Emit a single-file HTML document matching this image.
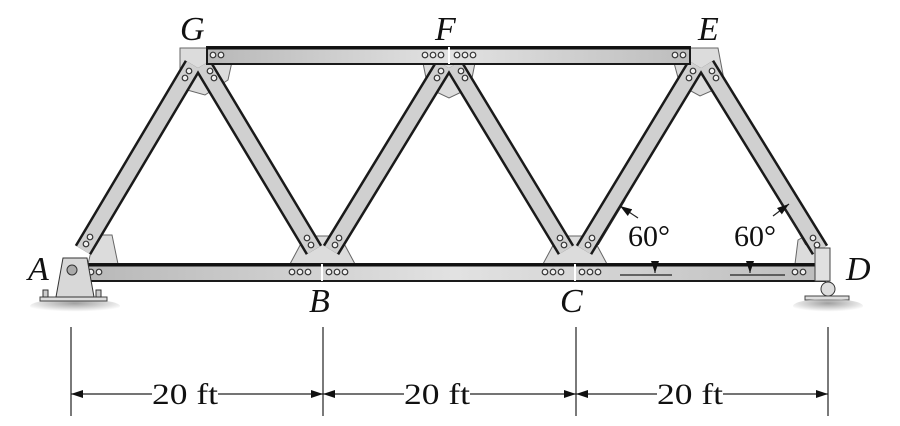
<!DOCTYPE html>
<html><head><meta charset="utf-8"><style>
html,body{margin:0;padding:0;background:#fff;}
svg{display:block;}
.lbl{font-family:"Liberation Serif",serif;font-style:italic;font-size:34px;fill:#111;}
.dim{font-family:"Liberation Serif",serif;font-size:30px;fill:#111;}
</style></head><body>
<svg width="900" height="426" viewBox="0 0 900 426" xmlns="http://www.w3.org/2000/svg">
<defs>
<linearGradient id="gb" x1="0" y1="0" x2="1" y2="0"><stop offset="0" stop-color="#b8b8b8"/><stop offset="0.5" stop-color="#e2e2e2"/><stop offset="1" stop-color="#bdbdbd"/></linearGradient>
<radialGradient id="gr" cx="0.5" cy="0.3" r="0.6"><stop offset="0" stop-color="#777"/><stop offset="1" stop-color="#fff"/></radialGradient>
<marker id="ar" markerWidth="12" markerHeight="8" refX="12" refY="4" orient="auto" markerUnits="userSpaceOnUse"><path d="M0,0 L12,4 L0,8 z" fill="#111"/></marker>
</defs>
<!-- gussets -->
<g fill="#dcdcdc" stroke="#666" stroke-width="1">
<polygon points="180,48 235,48 228,80 205,95 180,88"/>
<polygon points="420,48 478,48 470,88 449,98 428,88"/>
<polygon points="670,48 718,48 725,85 700,96 680,85"/>
<polygon points="95,235 112,235 118,264 88,264"/>
<polygon points="290,264 305,236 340,236 355,264"/>
<polygon points="543,264 558,236 592,236 607,264"/>
<polygon points="798,240 812,232 830,258 830,264 795,264"/>
</g>
<!-- diagonals -->
<g stroke-linecap="butt" fill="none">
<g stroke="#1a1a1a" stroke-width="19">
<line x1="83" y1="250" x2="193" y2="65"/><line x1="203" y1="65" x2="314" y2="250"/>
<line x1="331" y1="250" x2="444" y2="65"/><line x1="454" y1="65" x2="566" y2="250"/>
<line x1="584" y1="250" x2="696" y2="65"/><line x1="706" y1="65" x2="820" y2="250"/>
</g>
<g stroke="#d0d0d0" stroke-width="14">
<line x1="83" y1="250" x2="193" y2="65"/><line x1="203" y1="65" x2="314" y2="250"/>
<line x1="331" y1="250" x2="444" y2="65"/><line x1="454" y1="65" x2="566" y2="250"/>
<line x1="584" y1="250" x2="696" y2="65"/><line x1="706" y1="65" x2="820" y2="250"/>
</g>
</g>
<!-- top chord -->
<rect x="207" y="47" width="483" height="17" fill="url(#gb)" stroke="#1a1a1a" stroke-width="2"/>
<line x1="207" y1="48" x2="690" y2="48" stroke="#111" stroke-width="3"/>
<line x1="449" y1="47" x2="449" y2="64" stroke="#fff" stroke-width="2"/>
<!-- bottom chord -->
<rect x="85" y="264" width="740" height="17" fill="url(#gb)" stroke="#1a1a1a" stroke-width="2"/>
<line x1="85" y1="265" x2="825" y2="265" stroke="#111" stroke-width="3"/>
<line x1="322" y1="264" x2="322" y2="281" stroke="#fff" stroke-width="2"/>
<line x1="575" y1="264" x2="575" y2="281" stroke="#fff" stroke-width="2"/>
<!-- D end plate -->
<rect x="815" y="248" width="15" height="33" fill="#e0e0e0" stroke="#444"/>
<!-- bolts -->
<g fill="#eee" stroke="#333" stroke-width="1.2">
<circle cx="91" cy="272" r="2.8"/><circle cx="99" cy="272" r="2.8"/>
<circle cx="292" cy="272" r="2.8"/><circle cx="300" cy="272" r="2.8"/><circle cx="308" cy="272" r="2.8"/>
<circle cx="329" cy="272" r="2.8"/><circle cx="337" cy="272" r="2.8"/><circle cx="345" cy="272" r="2.8"/>
<circle cx="545" cy="272" r="2.8"/><circle cx="553" cy="272" r="2.8"/><circle cx="561" cy="272" r="2.8"/>
<circle cx="582" cy="272" r="2.8"/><circle cx="590" cy="272" r="2.8"/><circle cx="598" cy="272" r="2.8"/>
<circle cx="795" cy="272" r="2.8"/><circle cx="803" cy="272" r="2.8"/>
<circle cx="213" cy="55" r="2.8"/><circle cx="221" cy="55" r="2.8"/>
<circle cx="425" cy="55" r="2.8"/><circle cx="433" cy="55" r="2.8"/><circle cx="441" cy="55" r="2.8"/>
<circle cx="457" cy="55" r="2.8"/><circle cx="465" cy="55" r="2.8"/><circle cx="473" cy="55" r="2.8"/>
<circle cx="675" cy="55" r="2.8"/><circle cx="683" cy="55" r="2.8"/>
<circle cx="86" cy="244" r="2.8"/><circle cx="90" cy="237" r="2.8"/>
<circle cx="185" cy="78" r="2.8"/><circle cx="189" cy="71" r="2.8"/>
<circle cx="210" cy="71" r="2.8"/><circle cx="214" cy="78" r="2.8"/>
<circle cx="307" cy="238" r="2.8"/><circle cx="311" cy="245" r="2.8"/>
<circle cx="335" cy="245" r="2.8"/><circle cx="339" cy="238" r="2.8"/>
<circle cx="437" cy="78" r="2.8"/><circle cx="441" cy="71" r="2.8"/>
<circle cx="461" cy="71" r="2.8"/><circle cx="465" cy="78" r="2.8"/>
<circle cx="560" cy="238" r="2.8"/><circle cx="564" cy="245" r="2.8"/>
<circle cx="588" cy="245" r="2.8"/><circle cx="592" cy="238" r="2.8"/>
<circle cx="689" cy="78" r="2.8"/><circle cx="693" cy="71" r="2.8"/>
<circle cx="712" cy="71" r="2.8"/><circle cx="716" cy="78" r="2.8"/>
<circle cx="813" cy="238" r="2.8"/><circle cx="817" cy="245" r="2.8"/>
</g>
<!-- support A -->
<ellipse cx="75" cy="306" rx="45" ry="7" fill="url(#gr)" opacity="0.7"/>
<rect x="40" y="297" width="67" height="4" fill="#ddd" stroke="#444"/>
<polygon points="56,297 63,258 87,258 94,297" fill="#d8d8d8" stroke="#333"/>
<circle cx="72" cy="270" r="5" fill="#aaa" stroke="#333"/>
<rect x="43" y="290" width="5" height="7" fill="#ccc" stroke="#333"/>
<rect x="96" y="290" width="5" height="7" fill="#ccc" stroke="#333"/>
<!-- support D -->
<circle cx="828" cy="289" r="7" fill="#ddd" stroke="#333"/>
<rect x="805" y="296" width="44" height="4" fill="#ddd" stroke="#444"/>
<ellipse cx="828" cy="306" rx="35" ry="7" fill="url(#gr)" opacity="0.7"/>
<!-- angle marks -->
<g stroke="#222" stroke-width="1.2" fill="none">
<line x1="620" y1="275" x2="672" y2="275"/><line x1="730" y1="275" x2="785" y2="275"/>
<line x1="598" y1="245" x2="625" y2="200"/><line x1="806" y1="245" x2="780" y2="200"/>
<line x1="655" y1="262" x2="655" y2="273" marker-end="url(#ar)"/>
<line x1="750" y1="262" x2="750" y2="273" marker-end="url(#ar)"/>
<line x1="638" y1="218" x2="620" y2="206" marker-end="url(#ar)"/>
<line x1="773" y1="216" x2="789" y2="204" marker-end="url(#ar)"/>
</g>
<text class="dim" x="628" y="246">60°</text>
<text class="dim" x="734" y="246">60°</text>
<!-- labels -->
<text class="lbl" x="180" y="40">G</text>
<text class="lbl" x="435" y="40">F</text>
<text class="lbl" x="698" y="40">E</text>
<text class="lbl" x="28" y="280">A</text>
<text class="lbl" x="309" y="312">B</text>
<text class="lbl" x="560" y="312">C</text>
<text class="lbl" x="846" y="280">D</text>
<!-- dimensions -->
<g stroke="#222" stroke-width="1.2">
<line x1="71" y1="327" x2="71" y2="416"/><line x1="323" y1="327" x2="323" y2="416"/>
<line x1="576" y1="327" x2="576" y2="416"/><line x1="828" y1="327" x2="828" y2="416"/>
<line x1="152" y1="394" x2="71" y2="394" marker-end="url(#ar)"/><line x1="218" y1="394" x2="323" y2="394" marker-end="url(#ar)"/>
<line x1="404" y1="394" x2="323" y2="394" marker-end="url(#ar)"/><line x1="470" y1="394" x2="576" y2="394" marker-end="url(#ar)"/>
<line x1="657" y1="394" x2="576" y2="394" marker-end="url(#ar)"/><line x1="723" y1="394" x2="828" y2="394" marker-end="url(#ar)"/>
</g>
<text class="dim" x="152" y="404" textLength="66" lengthAdjust="spacingAndGlyphs">20 ft</text>
<text class="dim" x="404" y="404" textLength="66" lengthAdjust="spacingAndGlyphs">20 ft</text>
<text class="dim" x="657" y="404" textLength="66" lengthAdjust="spacingAndGlyphs">20 ft</text>
</svg>
</body></html>
